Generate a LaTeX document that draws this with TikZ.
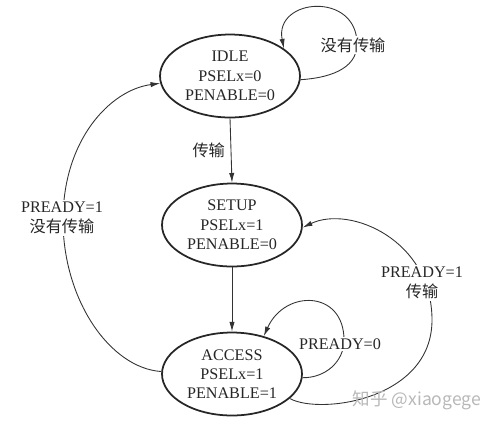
\documentclass[tikz,border=0pt]{standalone}
\usepackage{fontspec}
\setmainfont{Liberation Serif}
\newfontfamily\cjk{Noto Sans CJK SC}
\usetikzlibrary{shapes.geometric,arrows.meta}
\begin{document}
\begin{tikzpicture}[x=0.02cm,y=-0.02cm,
  state/.style={ellipse,draw=black!85,line width=1pt,minimum width=2.8cm,minimum height=1.66cm,inner sep=0pt,align=center,font=\fontsize{9.2}{11}\selectfont,text=black!85},
  conn/.style={draw=black!80,line width=0.5pt,-{Latex[length=5.5pt,width=3pt]}},
  lbl/.style={fill=white,inner sep=1pt,align=center,font=\fontsize{9.2}{11.5}\selectfont,text=black!85}]
\useasboundingbox (0,0) rectangle (483,424);
\node[state] (idle) at (230,76) {IDLE\\PSELx=0\\PENABLE=0};
\node[state] (setup) at (232,225) {SETUP\\PSELx=1\\PENABLE=0};
\node[state] (access) at (232,374) {ACCESS\\PSELx=1\\PENABLE=1};
% straight transitions
\draw[conn] (idle.south) -- (setup.north);
\node[lbl,anchor=east] (lt) at (227,150) {\cjk 传输};
\draw[conn] (setup.south) -- (access.north);
% IDLE self loop
\draw[conn] (idle.-3) .. controls (327,78) and (357,70) .. (357,44)
  .. controls (357,-9) and (274,-2) .. (idle.27);
\node[lbl] (l1) at (353,45) {\cjk 没有传输};
% ACCESS self loop
\draw[conn] (access.-3) .. controls (325,378) and (344,362) .. (344,340)
  .. controls (344,290) and (285,289) .. (access.50);
\node[lbl] (l2) at (340,344) {PREADY=0};
% ACCESS -> SETUP
\draw[conn] (access.-23) .. controls (320,415) and (432,400) .. (432,320)
  .. controls (432,240) and (350,205) .. (setup.-2);
\node[lbl] (l3) at (422,283) {PREADY=1\\{\cjk 传输}};
% ACCESS -> IDLE
\draw[conn] (access.178) .. controls (110,368) and (63,300) .. (63,220)
  .. controls (63,140) and (110,90) .. (idle.186);
\node[lbl] (l4) at (62,218) {PREADY=1\\{\cjk 没有传输}};
% watermark
\node[text=black!28,font=\cjk\fontsize{10}{12}\selectfont] (wm) at (417,400) {知乎 @xiaogege};
\end{tikzpicture}
\end{document}
